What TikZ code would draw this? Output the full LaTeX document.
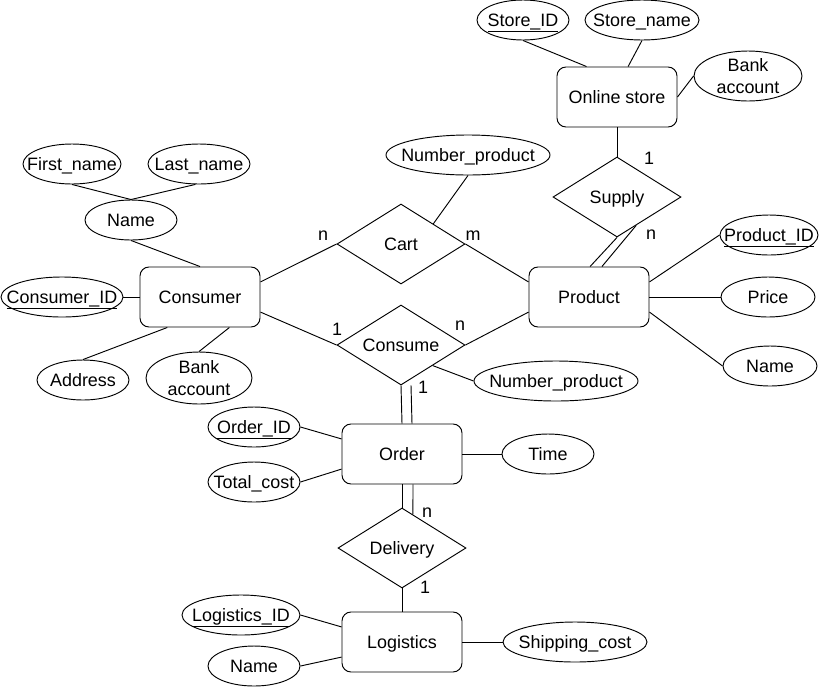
\documentclass[tikz,border=0pt]{standalone}
\usepackage{fontspec}
\setmainfont{Liberation Sans}
\usetikzlibrary{shapes.geometric}

\tikzset{
    line box/.style={text height=13.85pt, text depth=3.24pt},
    entity/.style={draw, line box, rounded corners=0.27cm, minimum width=3.6cm, minimum height=1.8cm},
    rel/.style={draw, line box, diamond, aspect=1.6, inner sep=0pt, minimum width=3.84cm, minimum height=2.4cm},
    oval/.style={draw, ellipse, inner sep=0pt, minimum width=2.76cm, minimum height=1.2cm},
    attr/.style={oval, label={[line box]center:#1}},
    key/.style={attr={\underline{#1}}},
    twoline/.style={oval, label={[align=center]center:#1}},
    card/.style={inner sep=0pt}
}

\begin{document}
\begin{tikzpicture}[x=0.03cm, y=-0.03cm, line width=0.8pt, font=\fontsize{15.3}{18.4}\selectfont]
    \useasboundingbox (0,0) rectangle (820,688);
    % entities
    \node[entity] (store) at (617,97) {Online store};
    \node[entity] (consumer) at (200,297) {Consumer};
    \node[entity] (product) at (589,297) {Product};
    \node[entity] (order) at (402,454) {Order};
    \node[entity] (logistics) at (402,642) {Logistics};
    % relationships
    \node[rel] (supply) at (617,197) {Supply};
    \node[rel] (cart) at (401,244) {Cart};
    \node[rel] (consume) at (401,345) {Consume};
    \node[rel] (delivery) at (402,548) {Delivery};
    % attributes
    \node[key={Store\_ID}] (sid) at (523,20) {};
    \node[attr={Store\_name}, minimum width=3.42cm] (sname) at (642,20) {};
    \node[twoline={Bank\\account}, minimum width=3.24cm, minimum height=1.5cm] (sbank) at (748,76) {};
    \node[attr={Number\_product}, minimum width=4.92cm] (cnum) at (468,155) {};
    \node[attr={First\_name}, minimum width=2.94cm] (fname) at (72,164) {};
    \node[attr={Last\_name}, minimum width=3.06cm] (lname) at (199,164) {};
    \node[attr={Name}] (cname) at (131,220) {};
    \node[key={Consumer\_ID}, minimum width=3.66cm] (cid) at (62,297) {};
    \node[attr={Address}] (addr) at (83,380) {};
    \node[twoline={Bank\\account}, minimum width=3.18cm, minimum height=1.56cm] (cbank) at (199,378) {};
    \node[key={Order\_ID}] (oid) at (254,427) {};
    \node[attr={Total\_cost}] (tcost) at (254,482) {};
    \node[attr={Time}] (time) at (548,454) {};
    \node[attr={Number\_product}, minimum width=4.92cm] (cnum2) at (556,381) {};
    \node[key={Logistics\_ID}, minimum width=3.54cm] (lid) at (241,615) {};
    \node[attr={Name}] (lgname) at (254,666) {};
    \node[attr={Shipping\_cost}, minimum width=4.32cm] (ship) at (575,642) {};
    \node[key={Product\_ID}, minimum width=2.94cm] (pid) at (769,235) {};
    \node[attr={Price}, minimum width=2.82cm] (price) at (768,297) {};
    \node[attr={Name}, minimum width=2.82cm] (pname) at (770,366) {};
    % connectors
    \foreach \a/\b in {store.south/supply.north, delivery.south/logistics.north,
        consumer.14/cart.west, cart.east/product.166, consumer.-14/consume.west,
        consume.east/product.194, cart.32/cnum.south, consume.-33/cnum2.west,
        sid.south/store.135, sname.south/store.70, sbank.west/store.east,
        fname.south/cname.north, lname.-100/cname.north, cname.south/consumer.north,
        cid.east/consumer.west, addr.north/consumer.223, cbank.north/consumer.-46,
        oid.east/order.166, tcost.east/order.194, order.east/time.west,
        lid.east/logistics.166, lgname.east/logistics.194, logistics.east/ship.west,
        product.14/pid.west, product.east/price.west, product.-14/pname.west,
        supply.south/product.88, supply.-56/product.67,
        consume.south/order.north, order.south/delivery.north}
        \draw (\a) -- (\b);
    % second lines of the total participations
    \draw ([xshift=0.3cm]consume.south) -- ([xshift=0.3cm]order.north);
    \draw ([xshift=0.33cm]order.south) -- (delivery.72);
    % cardinalities
    \node[card] (k1) at (649,158) {1};
    \node[card] (k2) at (651,235) {n};
    \node[card] (k3) at (323,236) {n};
    \node[card] (k4) at (473,236) {m};
    \node[card] (k5) at (337,329) {1};
    \node[card] (k6) at (460,326) {n};
    \node[card] (k7) at (423,387) {1};
    \node[card] (k8) at (427,513) {n};
    \node[card] (k9) at (425,587) {1};
\end{tikzpicture}
\end{document}
